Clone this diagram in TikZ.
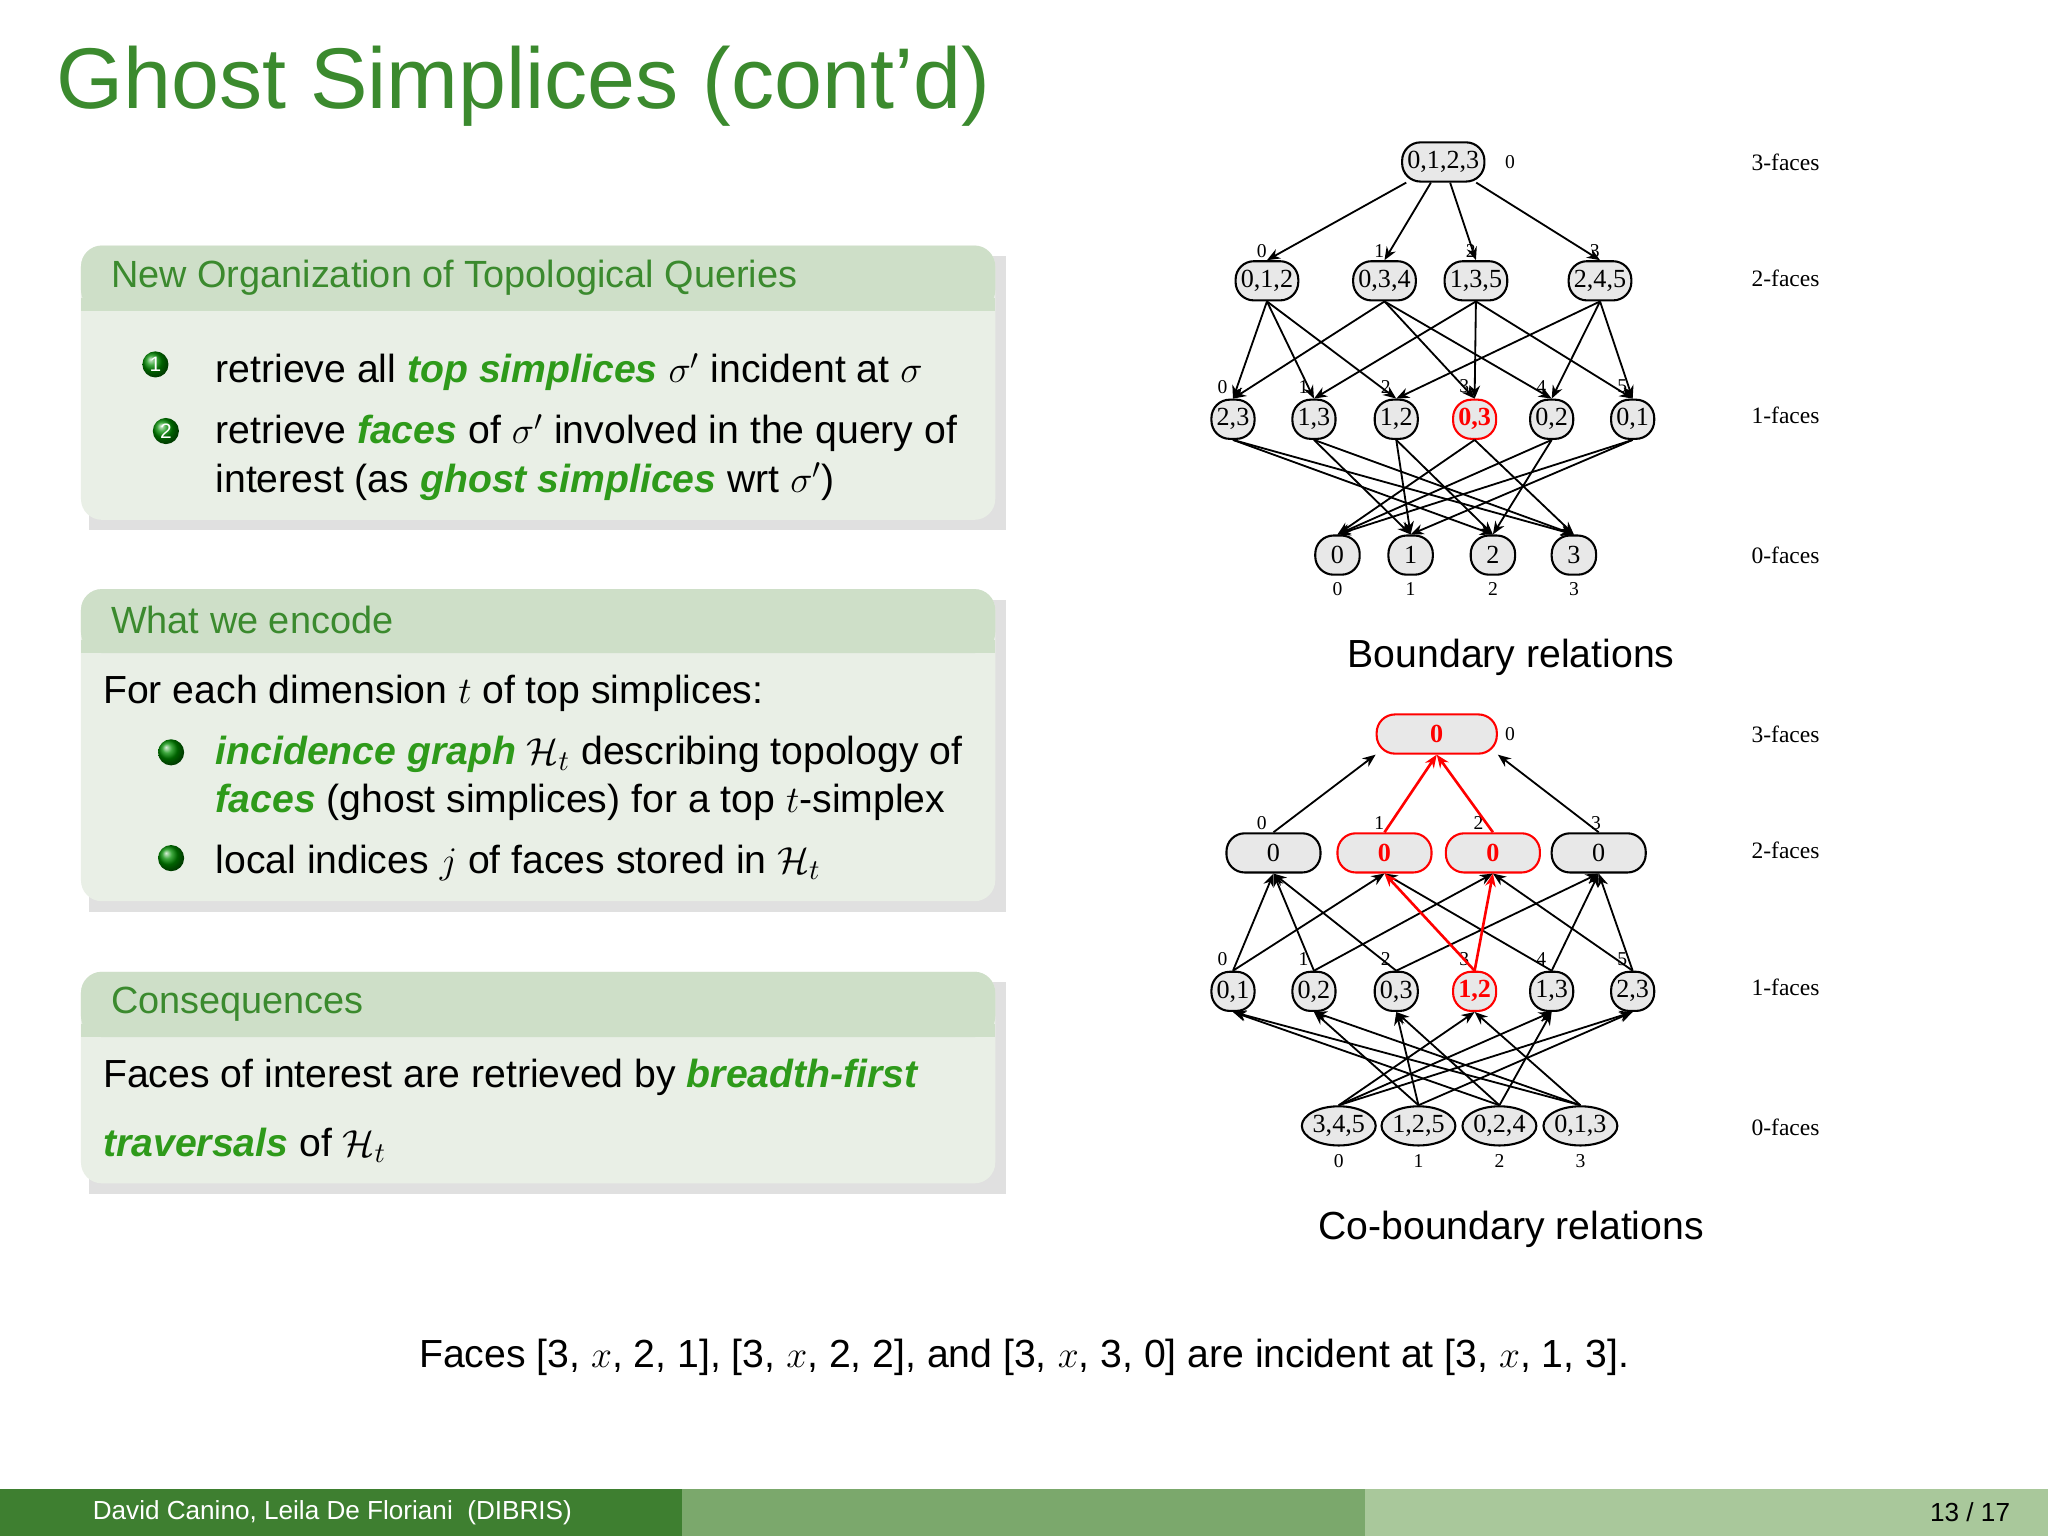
\documentclass[tikz,border=0pt]{standalone}
\usepackage{fontspec}
\setmainfont{Liberation Sans}
\newfontfamily\gserif{Liberation Serif}
\usetikzlibrary{arrows.meta,shapes.geometric}
\definecolor{tgreen}{HTML}{3B8A2E}
\definecolor{bgreen}{HTML}{2E9A1A}
\definecolor{bbar}{HTML}{CEDFC8}
\definecolor{bbody}{HTML}{E9EFE6}
\definecolor{fA}{HTML}{3E7F30}
\definecolor{fB}{HTML}{7BA86C}
\definecolor{fC}{HTML}{A9C89B}
\newcommand{\hl}[1]{\textcolor{bgreen}{\bfseries\itshape #1}}
\begin{document}
\begin{tikzpicture}[x=0.5pt,y=-0.5pt,
 gn/.style={draw,fill=gray!18,rounded corners=7pt,minimum height=15pt,inner sep=2pt,line width=0.8pt,font=\gserif\fontsize{10}{10}\selectfont},
 vn/.style={gn,minimum width=17pt},
 wn/.style={gn,minimum width=36pt},
 rn/.style={gn,draw=red,text=red,font=\gserif\bfseries\fontsize{10}{10}\selectfont},
 ed/.style={-{Stealth[length=5pt,width=4pt]},line width=0.7pt},
 redge/.style={ed,draw=red,line width=1pt},
 ix/.style={font=\gserif\fontsize{7.5}{7.5}\selectfont,inner sep=1pt},
 lv/.style={font=\gserif\fontsize{9}{9}\selectfont},
 captxt/.style={font=\fontsize{15}{15}\selectfont},
 btitle/.style={font=\fontsize{14.5}{14.5}\selectfont,text=tgreen,anchor=west},
 body/.style={font=\fontsize{15}{18.5}\selectfont,anchor=west,align=left},
 ball/.style={circle,shading=ball,ball color=green!55!black,minimum size=10pt,inner sep=0pt,text=white,font=\fontsize{8}{8}\selectfont}
]
\useasboundingbox (0,0) rectangle (1568,1176);
\fill[white] (0,0) rectangle (1568,1176);
\node[anchor=west,text=tgreen,font=\fontsize{33}{33}\selectfont] (title) at (36,66) {Ghost Simplices (cont'd)};

% blocks
\foreach \ya/\yb/\yc in {188/238/398,451/500/690,744/794/906}{
  \fill[black!12] (68,\ya+8) rectangle (770,\yc+8);
  \fill[bbody,rounded corners=8pt] (62,\ya) rectangle (762,\yc);
  \fill[bbar,rounded corners=8pt] (62,\ya) rectangle (762,\yb);
  \fill[bbar] (62,\yb-10) rectangle (762,\yb);
}
\node[btitle] (b1) at (78,213) {New Organization of Topological Queries};
\node[ball] (n1) at (119,279) {1};
\node[ball] (n2) at (127,330) {2};
\node[body] (t1) at (158,285) {retrieve all \hl{top simplices} $\sigma'$ incident at $\sigma$};
\node[body] (t2) at (158,350) {retrieve \hl{faces} of $\sigma'$ involved in the query of\\interest (as \hl{ghost simplices} wrt $\sigma'$)};
\node[btitle] (b2) at (78,475) {What we encode};
\node[body] (t3) at (72,531) {For each dimension $t$ of top simplices:};
\node[ball] (n3) at (131,576) {};
\node[ball] (n4) at (131,657) {};
\node[body] (t4) at (158,596) {\hl{incidence graph} $\mathcal{H}_t$ describing topology of\\\hl{faces} (ghost simplices) for a top $t$-simplex};
\node[body] (t5) at (158,661) {local indices $j$ of faces stored in $\mathcal{H}_t$};
\node[btitle] (b3) at (78,769) {Consequences};
\node[body] (t6) at (72,825) {Faces of interest are retrieved by \hl{breadth-first}};
\node[body] (t7) at (72,877) {\hl{traversals} of $\mathcal{H}_t$};

% level labels
\foreach \y/\k/\t in {124/a/3,213/b/2,318/c/1,425/d/0,562/e/3,651/f/2,756/g/1,863/h/0}
  \node[lv,anchor=west] (lv\k) at (1334,\y) {\t-faces};

% boundary graph
\node[gn] (T) at (1105,124) {0,1,2,3};
\node[ix] (Ti) at (1156,124) {0};
\foreach \n/\x/\t in {0/970/{0,1,2},1/1060/{0,3,4},2/1130/{1,3,5},3/1225/{2,4,5}}{
  \node[gn] (F\n) at (\x,215) {\t};
  \node[ix] (Fi\n) at (\x-4,192) {\n};}
\foreach \n/\x/\t in {0/944/{2,3},1/1006/{1,3},2/1069/{1,2},4/1188/{0,2},5/1250/{0,1}}{
  \node[gn] (E\n) at (\x,321) {\t};}
\node[rn] (E3) at (1129,321) {0,3};
\foreach \n/\x in {0/944,1/1006,2/1069,3/1129,4/1188,5/1250}
  \node[ix] (Ei\n) at (\x-8,296) {\n};
\foreach \n/\x in {0/1024,1/1080,2/1143,3/1205}{
  \node[vn] (V\n) at (\x,425) {\n};
  \node[ix] (Vi\n) at (\x,451) {\n};}
\foreach \n in {0,1,2,3} \draw[ed] (T) -- (F\n.north);
\foreach \a/\b in {0/0,0/1,0/2,1/0,1/3,1/4,2/1,2/3,2/5,3/2,3/4,3/5}
  \draw[ed] (F\a.south) -- (E\b.north);
\foreach \a/\b in {0/2,0/3,1/1,1/3,2/1,2/2,3/0,3/3,4/0,4/2,5/0,5/1}
  \draw[ed] (E\a.south) -- (V\b.north);
\node[captxt] (c1) at (1157,503) {Boundary relations};

% co-boundary graph
\node[rn,minimum width=46pt] (U) at (1100,562) {0};
\node[ix] (Ui) at (1156,562) {0};
\foreach \n/\x in {0/975,3/1224}{
  \node[wn] (G\n) at (\x,653) {0};}
\foreach \n/\x in {1/1060,2/1143}{
  \node[rn,minimum width=36pt] (G\n) at (\x,653) {0};}
\foreach \n/\x in {0/970,1/1060,2/1136,3/1226}
  \node[ix] (Gi\n) at (\x-4,630) {\n};
\foreach \n/\x/\t in {0/944/{0,1},1/1006/{0,2},2/1069/{0,3},4/1188/{1,3},5/1250/{2,3}}{
  \node[gn] (H\n) at (\x,759) {\t};}
\node[rn] (H3) at (1129,759) {1,2};
\foreach \n/\x in {0/944,1/1006,2/1069,3/1129,4/1188,5/1250}
  \node[ix] (Hi\n) at (\x-8,734) {\n};
\foreach \n/\x/\t in {0/1025/{3,4,5},1/1086/{1,2,5},2/1148/{0,2,4},3/1210/{0,1,3}}{
  \node[gn,ellipse,rounded corners=0pt,inner sep=0pt,minimum height=15pt,minimum width=24pt] (W\n) at (\x,862) {\t};
  \node[ix] (Wi\n) at (\x,889) {\n};}
\draw[ed] (G0.north) -- (U.south west);
\draw[ed] (G3.north) -- (U.south east);
\draw[redge] (G1.north) -- (U.south);
\draw[redge] (G2.north) -- (U.south);
\foreach \a/\b in {0/0,0/1,1/0,1/2,2/0,2/3,4/1,4/3,5/2,5/3}
  \draw[ed] (H\a.north) -- (G\b.south);
\draw[redge] (H3.north) -- (G1.south);
\draw[redge] (H3.north) -- (G2.south);
\foreach \a/\b in {0/3,0/4,0/5,1/1,1/2,1/5,2/0,2/2,2/4,3/0,3/1,3/3}
  \draw[ed] (W\a.north) -- (H\b.south);
\node[captxt] (c2) at (1157,941) {Co-boundary relations};

\node[captxt] (fc) at (784,1039) {Faces [3, $x$, 2, 1], [3, $x$, 2, 2], and [3, $x$, 3, 0] are incident at [3, $x$, 1, 3].};

% footer
\fill[fA] (0,1140) rectangle (522,1176);
\fill[fB] (522,1140) rectangle (1045,1176);
\fill[fC] (1045,1140) rectangle (1568,1176);
\node[anchor=west,text=white,font=\fontsize{10}{10}\selectfont] (fl) at (64,1158) {David Canino, Leila De Floriani\ \ (DIBRIS)};
\node[anchor=east,font=\fontsize{10}{10}\selectfont] (fr) at (1546,1158) {13 / 17};
\end{tikzpicture}
\end{document}
